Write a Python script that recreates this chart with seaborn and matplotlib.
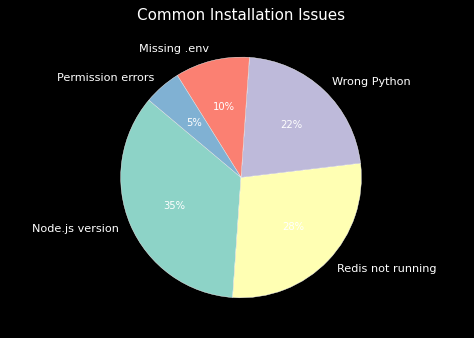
import matplotlib
matplotlib.use("Agg")
import matplotlib.pyplot as plt
import seaborn as sns

# data
issues = ["Node.js version", "Redis not running", "Wrong Python", "Missing .env", "Permission errors"]
shares = [35, 28, 22, 10, 5]

sns.set_style("dark")
plt.rcParams['font.family'] = ['DejaVu Sans']
colors = sns.color_palette("Set3", len(issues))

fig, ax = plt.subplots(figsize=(4.74, 3.38), dpi=100)
fig.patch.set_facecolor("black")
ax.set_facecolor("black")
fig.subplots_adjust(left=0.05, right=0.967, bottom=0.03, top=0.92)

wedges, texts, autotexts = ax.pie(
    shares, labels=issues, colors=colors, autopct="%1.0f%%",
    startangle=140, counterclock=True,
    wedgeprops={"edgecolor": "white", "linewidth": 0.3},
    textprops={"color": "white", "fontsize": 8.1},
)
for t in autotexts:
    t.set_fontsize(7.2)
    t.set_color("white")

ax.set_title("Common Installation Issues", color="white", fontsize=10.9, pad=5)

fig.savefig("out.png", dpi=100, facecolor="black")
